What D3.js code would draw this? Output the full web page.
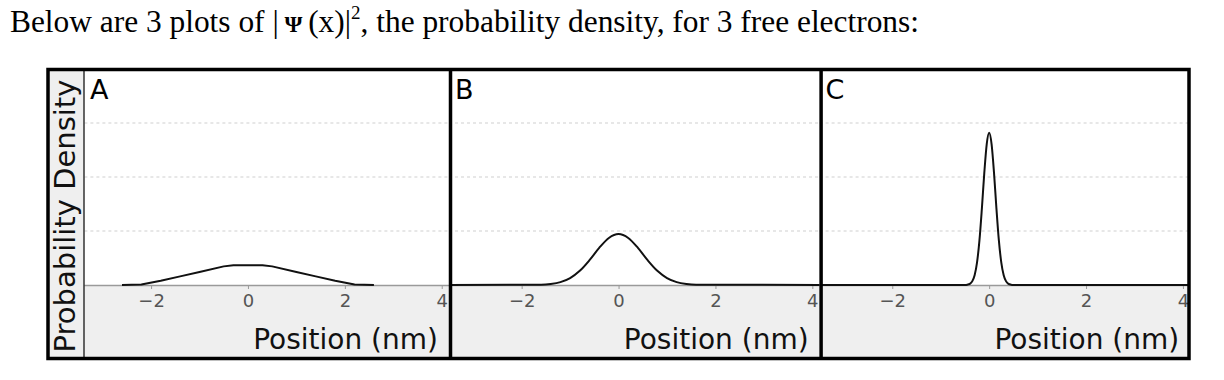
<!DOCTYPE html>
<html>
<head>
<meta charset="utf-8">
<script src="https://cdn.jsdelivr.net/npm/d3@7/dist/d3.min.js"></script>
<style>
  html, body { margin: 0; padding: 0; background: #fff; }
  svg { display: block; }
</style>
</head>
<body>
<svg id="chart" width="1224" height="380"></svg>
<script>
// ---------- data ----------
const panelNames = ["A", "B", "C"];
const xTicks = [-2, 0, 2, 4];
const gridValues = [1, 2, 3];
const xLabel = "Position (nm)";
const yLabel = "Probability Density";

const aX = [-2.6, -2.2, -1.8, -1.4, -1.0, -0.5, -0.3, 0.3, 0.5, 1.0, 1.4, 1.8, 2.2, 2.6];
const aY = [0, 0.01, 0.08, 0.16, 0.24, 0.345, 0.365, 0.365, 0.345, 0.24, 0.16, 0.08, 0.01, 0];

const bX = [-3.5, -1.6, -1.4, -1.2, -1.0, -0.8, -0.6, -0.4, -0.2, 0, 0.2, 0.4, 0.6, 0.8, 1.0, 1.2, 1.4, 1.6, 4.15];
const bY = [0, 0.006, 0.019, 0.053, 0.128, 0.262, 0.459, 0.686, 0.871, 0.944, 0.871, 0.686, 0.459, 0.262, 0.128, 0.053, 0.019, 0.006, 0];

const cX = [-3.5, -0.5, -0.45, -0.4, -0.35, -0.3, -0.25, -0.2, -0.15, -0.1, -0.05, 0, 0.05, 0.1, 0.15, 0.2, 0.25, 0.3, 0.35, 0.4, 0.45, 0.5, 4.15];
const cY = [0, 0, 0.006, 0.021, 0.067, 0.181, 0.42, 0.83, 1.42, 2.08, 2.61, 2.82, 2.61, 2.08, 1.42, 0.83, 0.42, 0.181, 0.067, 0.021, 0.006, 0, 0];

const seriesX = [aX, bX, cX];
const seriesY = [aY, bY, cY];

// ---------- layout ----------
const svg = d3.select("#chart");
const outer = { left: 48, top: 69.5, right: 1189, bottom: 358.5 };
const labelColRight = 84;
const slotW = 370.6;
const firstSlotLeft = 78.4;
const xDomain = [-3.5, 4.15];
const yScale = d3.scaleLinear().domain([0, 4]).range([285, 69]);
const baseY = yScale(0);

// title
const title = svg.append("text")
  .attr("x", 10).attr("y", 32)
  .attr("font-family", "'Liberation Serif', 'Times New Roman', serif")
  .attr("font-size", 31.4)
  .attr("fill", "#000");
title.append("tspan").text("Below are 3 plots of |");
title.append("tspan").attr("font-weight", "bold").attr("font-size", 23).text(" Ψ ");
title.append("tspan").attr("font-size", 31.4).text("(x)|");
title.append("tspan").attr("font-size", 19).attr("dy", -13).text("2");
title.append("tspan").attr("dy", 13).text(", the probability density, for 3 free electrons:");

// clip for panels area
svg.append("clipPath").attr("id", "areaClip")
  .append("rect").attr("x", labelColRight).attr("y", outer.top)
  .attr("width", outer.right - labelColRight).attr("height", outer.bottom - outer.top);

const root = svg.append("g").attr("clip-path", "url(#areaClip)");

panelNames.forEach((name, i) => {
  const left = firstSlotLeft + i * slotW;
  const right = left + slotW;
  const x = d3.scaleLinear().domain(xDomain).range([left, right]);
  const g = root.append("g");

  // plot bg
  g.append("rect").attr("x", left).attr("y", outer.top)
    .attr("width", slotW).attr("height", baseY - outer.top).attr("fill", "#fff");
  // axis bg
  g.append("rect").attr("x", left).attr("y", baseY)
    .attr("width", slotW).attr("height", outer.bottom - baseY).attr("fill", "#efefef");

  // gridlines
  g.selectAll(".grid").data(gridValues).join("line")
    .attr("x1", left).attr("x2", right)
    .attr("y1", d => yScale(d)).attr("y2", d => yScale(d))
    .attr("stroke", "#cfcfcf").attr("stroke-width", 1)
    .attr("stroke-dasharray", "3,3");

  // axis
  const axis = d3.axisBottom(x).tickValues(xTicks).tickSize(4).tickSizeOuter(0)
    .tickFormat(d => d < 0 ? "\u2212" + Math.abs(d) : String(d));
  const ag = g.append("g").attr("transform", `translate(0,${baseY})`).call(axis);
  ag.select(".domain").attr("stroke", "#9a9a9a").attr("stroke-width", 1.5);
  ag.selectAll(".tick line").attr("stroke", "#9a9a9a");
  ag.selectAll(".tick text")
    .attr("font-family", "'DejaVu Sans', sans-serif")
    .attr("font-size", 18).attr("fill", "#555").attr("y", 9);

  // curve
  const pts = seriesX[i].map((v, k) => [v, seriesY[i][k]]);
  const line = d3.line()
    .x(d => x(d[0])).y(d => yScale(d[1]))
    .curve(i === 0 ? d3.curveLinear : d3.curveMonotoneX);
  g.append("path").datum(pts)
    .attr("d", line).attr("fill", "none")
    .attr("stroke", "#111").attr("stroke-width", 2)
    .attr("stroke-linejoin", "round");

  // panel letter
  g.append("text").attr("x", Math.max(left, labelColRight) + 6).attr("y", 99)
    .attr("font-family", "'DejaVu Sans', sans-serif")
    .attr("font-size", 27).attr("fill", "#000").text(name);

  // x label
  g.append("text").attr("x", right - 11).attr("y", 349)
    .attr("text-anchor", "end")
    .attr("font-family", "'DejaVu Sans', sans-serif")
    .attr("font-size", 28).attr("fill", "#111").text(xLabel);
});

// y label column
svg.append("rect").attr("x", outer.left).attr("y", outer.top)
  .attr("width", labelColRight - outer.left).attr("height", outer.bottom - outer.top)
  .attr("fill", "#efefef");
svg.append("line").attr("x1", labelColRight).attr("x2", labelColRight)
  .attr("y1", outer.top).attr("y2", outer.bottom)
  .attr("stroke", "#333").attr("stroke-width", 1.5);
svg.append("text")
  .attr("transform", `translate(75,${(outer.top + outer.bottom) / 2 + 2}) rotate(-90)`)
  .attr("text-anchor", "middle")
  .attr("font-family", "'DejaVu Sans', sans-serif")
  .attr("font-size", 29).attr("fill", "#111").text(yLabel);

// panel dividers
[1, 2].forEach(i => {
  const xd = firstSlotLeft + i * slotW + 1.5;
  svg.append("line").attr("x1", xd).attr("x2", xd)
    .attr("y1", outer.top).attr("y2", outer.bottom)
    .attr("stroke", "#000").attr("stroke-width", 3.5);
});

// outer border
svg.append("rect").attr("x", outer.left).attr("y", outer.top)
  .attr("width", outer.right - outer.left).attr("height", outer.bottom - outer.top)
  .attr("fill", "none").attr("stroke", "#000").attr("stroke-width", 3.5);
</script>
</body>
</html>
